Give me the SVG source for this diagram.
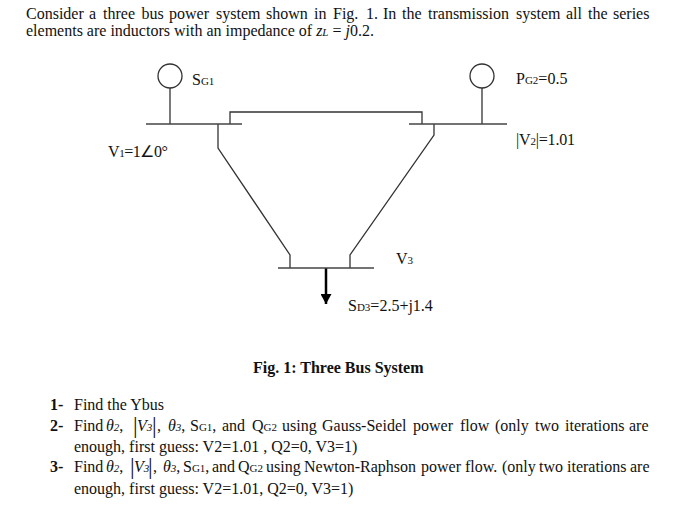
<svg xmlns="http://www.w3.org/2000/svg" width="688" height="520" viewBox="0 0 688 520">
<style>
text{font-family:"Liberation Serif","Times New Roman",serif;font-size:16px;fill:#111}
.s{font-size:11px}
.i{font-style:italic}
.b{font-weight:bold}
.bar{font-size:23px;font-weight:normal}
.w{stroke:#333;stroke-width:1.3;fill:none}
.bus{stroke:#444;stroke-width:1.3;fill:none}
</style>
<defs><marker id="a" markerUnits="userSpaceOnUse" markerWidth="10" markerHeight="11" refX="10" refY="5.500" orient="auto" viewBox="0 0 10 11"><path d="M0 0L10 5.500L0 11Z" fill="#000"/></marker></defs>
<rect width="688" height="520" fill="#fff"/>
<g id="intro">
<text y="19"><tspan x="26">Consider</tspan><tspan x="89">a</tspan><tspan x="103">three</tspan><tspan x="141.500">bus</tspan><tspan x="169">power</tspan><tspan x="216">system</tspan><tspan x="266">shown</tspan><tspan x="314">in</tspan><tspan x="333">Fig.</tspan><tspan x="366">1.</tspan><tspan x="383">In</tspan><tspan x="402">the</tspan><tspan x="428">transmission</tspan><tspan x="516">system</tspan><tspan x="566">all</tspan><tspan x="588">the</tspan><tspan x="613">series</tspan></text>
<text x="26" y="36">elements are inductors with an impedance of <tspan class="i">z</tspan><tspan class="s i">L</tspan> = <tspan class="i">j</tspan>0.2.</text>
</g>
<g id="connectors">
<path class="w" d="M170 88V124M482 88V124M218 124V148L290 255V268M350 268V255L434 135V124M230 124V112H422V124"/>
<path d="M326 268V304" stroke="#000" stroke-width="2.500" fill="none" marker-end="url(#a)"/>
</g>
<g id="gen1"><circle class="w" cx="170" cy="76" r="12"/><text x="192" y="85">S<tspan class="s">G1</tspan></text></g>
<g id="gen2"><circle class="w" cx="482" cy="76" r="12"/><text x="516" y="84">P<tspan class="s">G2</tspan>=0.5</text></g>
<g id="bus1"><path class="bus" d="M146 124H242"/><text x="108" y="157" textLength="60">V<tspan class="s">1</tspan>=1∠0°</text></g>
<g id="bus2"><path class="bus" d="M409 124H507"/><text x="516" y="145" textLength="59">|V<tspan class="s">2</tspan>|=1.01</text></g>
<g id="bus3"><path class="bus" d="M278 268H374"/><text x="396" y="264">V<tspan class="s">3</tspan></text><text x="348" y="311">S<tspan class="s">D3</tspan>=2.5+j1.4</text></g>
<g id="caption"><text class="b" x="253" y="373">Fig. 1: Three Bus System</text></g>
<g id="questions">
<text class="b" x="50" y="410">1-</text><text x="74" y="410">Find the Ybus</text>
<text class="b" x="50" y="431">2-</text>
<text y="431"><tspan x="74">Find</tspan><tspan x="106" class="i">θ</tspan><tspan class="s i">2</tspan><tspan>,</tspan><tspan x="137" class="i">V</tspan><tspan class="s i">3</tspan><tspan x="157">,</tspan><tspan x="168" class="i">θ</tspan><tspan class="s i">3</tspan><tspan>,</tspan><tspan x="190">S</tspan><tspan class="s">G1</tspan><tspan>,</tspan><tspan x="222">and</tspan><tspan x="252">Q</tspan><tspan class="s">G2</tspan><tspan x="282">using</tspan><tspan x="322">Gauss-Seidel</tspan><tspan x="413">power</tspan><tspan x="460">flow</tspan><tspan x="495">(only</tspan><tspan x="535">two</tspan><tspan x="565">iterations</tspan><tspan x="629">are</tspan></text>
<text class="bar" x="133" y="433">|</text><text class="bar" x="152" y="433">|</text>
<text x="74" y="452">enough, first guess: V2=1.01 , Q2=0, V3=1)</text>
<text class="b" x="50" y="472">3-</text>
<text y="472"><tspan x="74">Find</tspan><tspan x="106" class="i">θ</tspan><tspan class="s i">2</tspan><tspan>,</tspan><tspan x="134" class="i">V</tspan><tspan class="s i">3</tspan><tspan x="153">,</tspan><tspan x="163" class="i">θ</tspan><tspan class="s i">3</tspan><tspan>,</tspan><tspan x="183">S</tspan><tspan class="s">G1</tspan><tspan>,</tspan><tspan x="212">and</tspan><tspan x="238">Q</tspan><tspan class="s">G2</tspan><tspan x="266">using</tspan><tspan x="304">Newton-Raphson</tspan><tspan x="421">power</tspan><tspan x="465">flow.</tspan><tspan x="502">(only</tspan><tspan x="539">two</tspan><tspan x="567">iterations</tspan><tspan x="630">are</tspan></text>
<text class="bar" x="130" y="474">|</text><text class="bar" x="148" y="474">|</text>
<text x="74" y="494">enough, first guess: V2=1.01, Q2=0, V3=1)</text>
</g>
</svg>
